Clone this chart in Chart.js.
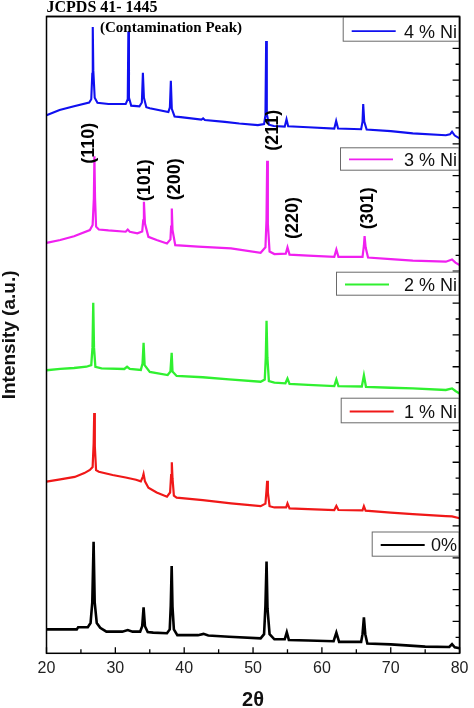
<!DOCTYPE html>
<html><head><meta charset="utf-8">
<script src="https://cdn.jsdelivr.net/npm/chart.js@4"></script>
<style>html,body{margin:0;padding:0;background:#fff;}</style>
</head><body>
<canvas id="c" width="474" height="708"></canvas>
<script>
// ---------- DATA (2θ in degrees, intensity in a.u., offset-stacked) ----------
const seriesLabels = ['4 % Ni', '3 % Ni', '2 % Ni', '1 % Ni', '0%'];
const seriesColors = ['#1010f0', '#f020f0', '#30f030', '#f01818', '#000000'];

const theta4 = [20.0,21.9,24.0,26.2,26.5,26.65,26.72,26.8,27.0,27.4,29.0,31.5,31.8,31.89,31.98,32.3,33.5,33.85,34.0,34.15,34.5,35.0,37.7,37.92,38.06,38.2,38.6,39.5,42.5,42.75,43.0,45.9,48.0,50.7,51.6,51.8,51.9,52.0,52.3,53.0,54.6,54.86,55.1,58.0,61.8,62.07,62.35,65.7,65.9,66.0,66.15,66.5,70.0,73.2,78.0,78.6,78.9,79.3,80.0];
const int4   = [16.90,17.06,17.18,17.30,17.40,18.20,19.67,18.30,17.45,17.29,17.25,17.25,17.40,19.54,17.45,17.20,17.18,17.30,18.23,17.45,17.15,17.12,17.00,17.15,17.98,17.10,16.86,16.84,16.76,16.80,16.75,16.69,16.64,16.59,16.62,16.90,19.23,16.95,16.60,16.56,16.54,16.77,16.55,16.52,16.48,16.72,16.48,16.46,16.70,17.25,16.70,16.45,16.40,16.33,16.27,16.30,16.38,16.26,16.17];

const theta3 = [20.0,22.0,24.0,26.3,26.7,26.88,26.96,27.05,27.2,27.6,29.0,31.5,31.8,32.1,33.2,33.9,34.05,34.15,34.3,34.8,36.0,37.5,38.0,38.1,38.2,38.3,38.7,42.0,46.8,51.1,51.8,51.95,52.05,52.15,52.4,53.1,54.75,55.0,55.3,58.0,61.8,62.1,62.4,65.9,66.1,66.2,66.35,66.7,70.0,73.2,78.0,78.9,79.4,80.0];
const int3   = [12.89,12.98,13.10,13.29,13.45,14.30,15.61,14.30,13.40,13.31,13.28,13.24,13.31,13.24,13.19,13.25,13.60,14.18,13.50,13.08,12.98,12.87,13.00,13.40,13.97,13.30,12.82,12.77,12.72,12.58,12.75,13.60,15.47,13.50,12.62,12.54,12.55,12.75,12.52,12.49,12.45,12.68,12.45,12.45,12.80,13.10,12.75,12.43,12.38,12.33,12.30,12.37,12.27,12.19];

const theta2 = [20.0,22.0,24.0,25.8,26.5,26.68,26.79,26.9,27.1,28.0,31.3,31.7,32.1,33.7,33.95,34.1,34.25,35.0,37.6,38.0,38.18,38.3,38.9,42.7,46.5,51.1,51.7,51.85,51.96,52.08,52.3,53.1,54.7,55.0,55.3,58.0,61.8,62.1,62.4,65.8,66.1,66.4,70.0,73.2,78.0,78.9,79.4,80.0];
const int2   = [8.89,8.93,8.96,9.00,9.05,9.60,11.01,9.60,9.00,8.95,8.93,9.00,8.93,8.90,9.10,9.75,9.05,8.84,8.74,8.85,9.44,8.85,8.71,8.67,8.60,8.53,8.60,9.30,10.44,9.30,8.55,8.50,8.48,8.63,8.46,8.43,8.39,8.60,8.39,8.38,8.73,8.37,8.34,8.32,8.27,8.32,8.24,8.16];

const theta1 = [20.0,22.0,24.1,25.5,26.3,26.7,26.85,26.93,27.02,27.2,27.6,29.6,31.5,33.0,33.7,34.0,34.1,34.3,34.8,36.0,37.5,37.95,38.1,38.2,38.3,38.5,38.9,42.7,46.8,51.1,51.8,51.95,52.05,52.15,52.4,53.1,54.8,55.0,55.3,58.0,61.8,62.1,62.4,65.9,66.1,66.35,70.0,73.2,78.0,78.9,80.0];
const int1   = [5.39,5.46,5.54,5.66,5.76,5.85,6.60,7.55,6.50,5.75,5.70,5.60,5.52,5.45,5.40,5.55,5.63,5.40,5.20,5.05,4.92,5.05,5.60,6.00,5.50,4.95,4.89,4.81,4.71,4.62,4.70,5.10,5.42,5.05,4.62,4.58,4.58,4.71,4.55,4.53,4.50,4.63,4.50,4.49,4.62,4.48,4.42,4.37,4.31,4.30,4.24];

const theta0 = [20.0,22.0,24.4,24.6,26.0,26.4,26.65,26.84,27.0,27.3,27.8,28.7,31.0,31.8,32.5,33.6,33.9,34.1,34.3,34.7,35.5,37.5,37.9,38.05,38.18,38.3,38.5,39.0,42.0,42.8,43.5,46.5,51.1,51.6,51.8,51.96,52.1,52.4,53.1,54.6,54.9,55.2,58.0,61.7,62.1,62.5,65.7,65.9,66.1,66.3,66.6,70.0,75.0,78.5,78.9,79.3,80.0];
const int0   = [0.75,0.75,0.75,0.82,0.82,0.95,1.60,3.50,1.60,0.95,0.80,0.68,0.68,0.73,0.68,0.68,0.85,1.44,0.85,0.67,0.65,0.63,0.75,1.50,2.74,1.45,0.75,0.57,0.57,0.61,0.56,0.52,0.47,0.60,1.50,2.88,1.40,0.60,0.44,0.44,0.66,0.42,0.40,0.38,0.65,0.36,0.36,0.60,1.13,0.60,0.31,0.28,0.21,0.20,0.29,0.19,0.16];

const xTickLabels = [20, 30, 40, 50, 60, 70, 80];

// Miller-index annotations, anchored in data coordinates (2θ, a.u.)
const hklLabels = ['(110)', '(101)', '(200)', '(211)', '(220)', '(301)'];
const hklTheta  = [26.19, 34.28, 38.74, 52.89, 55.77, 66.67];
const hklInt    = [16.02, 14.86, 14.89, 16.43, 13.67, 13.98];

// ---------- build ----------
const thetas = [theta4, theta3, theta2, theta1, theta0];
const ints = [int4, int3, int2, int1, int0];
const widths = [2.1, 2.2, 2.3, 2.2, 2.6];

const datasets = seriesLabels.map((lab, i) => ({
  label: lab,
  data: thetas[i].map((t, j) => ({x: t, y: ints[i][j]})),
  borderColor: seriesColors[i],
  borderWidth: widths[i],
  pointRadius: 0,
  tension: 0,
  fill: false
}));

// legend box layout (pixels)
const legendLayout = [
  {left: 342.7, top: 16.5, bottom: 41.7, mid: 31.2},
  {left: 340.0, top: 147.3, bottom: 170.7, mid: 159.3},
  {left: 336.0, top: 271.7, bottom: 295.7, mid: 284.5},
  {left: 340.7, top: 397.7, bottom: 423.3, mid: 411.5},
  {left: 371.7, top: 531.5, bottom: 556.7, mid: 545.0}
];

const decor = {
  id: 'decor',
  afterDatasetsDraw(chart) {
    const {ctx, chartArea: a, scales: {x, y}} = chart;
    ctx.save();
    ctx.strokeStyle = '#000';
    ctx.lineWidth = 1.3;
    ctx.beginPath();
    for (let v = 20; v <= 80; v += 5) {
      const px = x.getPixelForValue(v);
      const len = (v % 10 === 0) ? 6 : 4;
      ctx.moveTo(px, a.bottom); ctx.lineTo(px, a.bottom - len);
    }
    for (let k = 1; k < 40; k++) {
      const py = y.getPixelForValue(k * 0.5);
      const len = (k % 2 === 0) ? 7 : 4;
      ctx.moveTo(a.right, py); ctx.lineTo(a.right - len, py);
    }
    ctx.stroke();
    ctx.lineWidth = 1.5;
    ctx.strokeRect(a.left, a.top, a.right - a.left, a.bottom - a.top);
    ctx.restore();
  },
  afterDraw(chart) {
    const {ctx, chartArea: a, scales: {x, y}} = chart;
    ctx.save();
    // legend boxes
    legendLayout.forEach((L, i) => {
      const ds = chart.data.datasets[i];
      const right = a.right;
      ctx.fillStyle = '#fff';
      ctx.fillRect(L.left, L.top, right - L.left, L.bottom - L.top);
      ctx.strokeStyle = '#6a6a6a';
      ctx.lineWidth = 1;
      ctx.strokeRect(L.left + 0.5, L.top + 0.5, right - L.left - 1, L.bottom - L.top - 1);
      ctx.strokeStyle = ds.borderColor;
      ctx.lineWidth = 1.8;
      ctx.beginPath();
      ctx.moveTo(L.left + 9, L.mid); ctx.lineTo(L.left + 53, L.mid);
      ctx.stroke();
      ctx.font = '18px "Liberation Sans", Arial, sans-serif';
      ctx.fillStyle = '#111';
      ctx.textAlign = 'right';
      ctx.textBaseline = 'alphabetic';
      ctx.fillText(ds.label, 457, L.mid + 6.4);
    });
    // frame lines redraw where legend covers them
    ctx.strokeStyle = '#000';
    ctx.lineWidth = 1.5;
    ctx.beginPath();
    ctx.moveTo(a.left, a.top); ctx.lineTo(a.right, a.top);
    ctx.moveTo(a.right, a.top); ctx.lineTo(a.right, a.bottom);
    ctx.stroke();
    // hkl labels
    ctx.fillStyle = '#000';
    ctx.font = 'bold 18px "Liberation Sans", Arial, sans-serif';
    ctx.textAlign = 'center';
    ctx.textBaseline = 'middle';
    hklLabels.forEach((t, i) => {
      const px = x.getPixelForValue(hklTheta[i]);
      const py = y.getPixelForValue(hklInt[i]);
      ctx.save();
      ctx.translate(px, py);
      ctx.rotate(-Math.PI / 2);
      ctx.fillText(t, 0, 0);
      ctx.restore();
    });
    // header texts
    ctx.textAlign = 'left';
    ctx.textBaseline = 'alphabetic';
    ctx.font = 'bold 16px "Liberation Serif", "Times New Roman", serif';
    ctx.fillText('JCPDS 41- 1445', 46.5, 12);
    ctx.font = 'bold 15px "Liberation Serif", "Times New Roman", serif';
    ctx.fillText('(Contamination Peak)', 100, 31.5);
    ctx.restore();
  }
};

new Chart(document.getElementById('c'), {
  type: 'line',
  data: {datasets},
  options: {
    responsive: false,
    animation: false,
    devicePixelRatio: 1,
    layout: {padding: {left: 0, top: 16.5, right: 10.7, bottom: 0}},
    plugins: {legend: {display: false}, tooltip: {enabled: false}},
    scales: {
      x: {
        type: 'linear', min: 20, max: 80,
        afterBuildTicks: s => { s.ticks = xTickLabels.map(v => ({value: v})); },
        ticks: {font: {size: 16, family: '"Liberation Sans", Arial, sans-serif'}, color: '#222', padding: 5.5, maxRotation: 0},
        grid: {display: false, drawTicks: false},
        border: {display: false},
        title: {display: true, text: '2θ', color: '#111', padding: 0,
                font: {size: 20, weight: 'bold', family: '"Liberation Sans", Arial, sans-serif', lineHeight: 0.8}},
        afterFit: s => { s.height = 708 - 653.3; }
      },
      y: {
        type: 'linear', min: 0, max: 20,
        ticks: {display: false},
        grid: {display: false, drawTicks: false},
        border: {display: false},
        title: {display: true, text: 'Intensity (a.u.)', color: '#111', padding: 0,
                font: {size: 19, weight: 'bold', family: '"Liberation Sans", Arial, sans-serif', lineHeight: 1}},
        afterFit: s => { s.width = 46.5; }
      }
    }
  },
  plugins: [decor]
});
</script>
</body></html>
